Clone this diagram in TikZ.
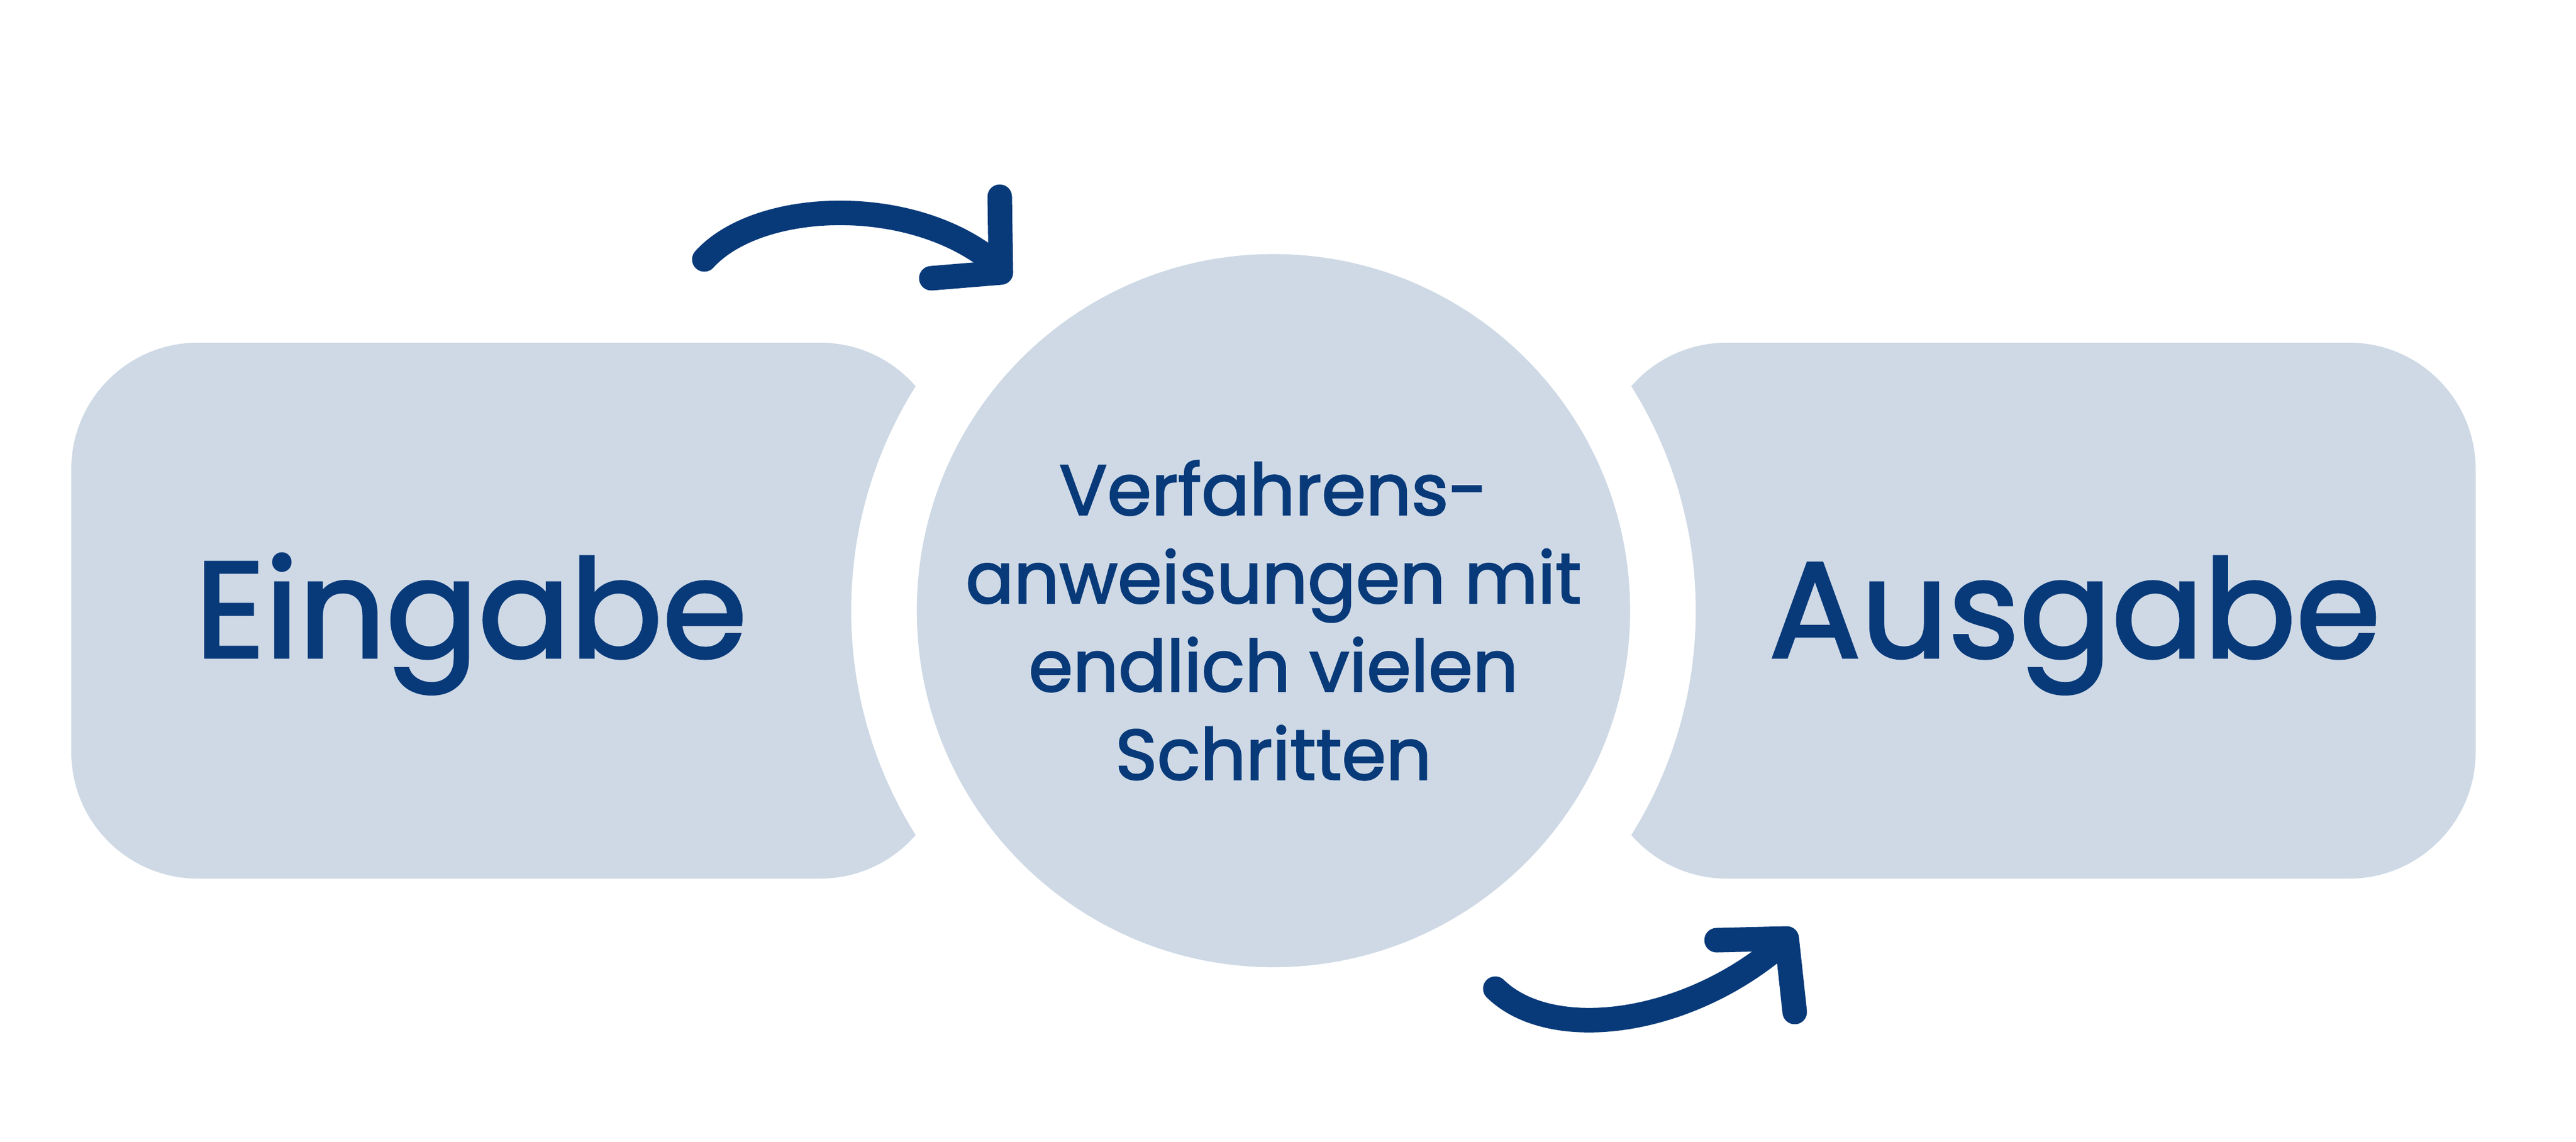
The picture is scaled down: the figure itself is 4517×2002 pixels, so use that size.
\documentclass[tikz,border=0pt]{standalone}
\usepackage{fontspec}
\setmainfont{Poppins}
\newfontfamily\embfont{Poppins}[FakeBold=2]
\definecolor{boxfill}{HTML}{CED9E5}
\definecolor{ink}{HTML}{083A7A}
\tikzset{
  arrowline/.style={draw=ink, line width=0.43cm, line cap=round, line join=round},
  bigtext/.style={text=ink, font=\embfont\fontsize{68}{80}\selectfont, inner sep=0pt, anchor=base},
  midtext/.style={text=ink, font=\embfont\fontsize{35.5}{44}\selectfont, align=center, inner sep=0pt}
}
\begin{document}
\begin{tikzpicture}[x=0.01cm,y=-0.01cm]
\fill[white] (0,0) rectangle (4517,2002);
\useasboundingbox (0,0) rectangle (4517,2002);
% side boxes
\fill[boxfill, rounded corners=2.22cm] (125,601) rectangle (1660,1541);
\fill[boxfill, rounded corners=2.22cm] (2806,601) rectangle (4341,1541);
% white gap around the circle
\fill[white] (2233,1071) circle[radius=7.4cm];
% central circle
\node (proc) [circle, fill=boxfill, minimum size=12.5cm, inner sep=0pt] at (2233,1071) {};
\node (proctext) [midtext] at (2233,1088) {Verfahrens-\\anweisungen mit\\endlich vielen\\Schritten};
\node (ein) [bigtext] at (826,1153) {Eingabe};
\node (aus) [bigtext] at (3638,1153) {Ausgabe};
% top arrow
\coordinate (a1s) at (1235,455);
\coordinate (a1e) at (1745,462);
\coordinate (a1t) at (1753,345);
\coordinate (a1c) at (1755,478);
\coordinate (a1b) at (1633,488);
\draw[arrowline] (a1s) .. controls (1330,350) and (1600,340) .. (a1e);
\draw[arrowline] (a1t) -- (a1c) -- (a1b);
% bottom arrow
\coordinate (a2s) at (2622,1734);
\coordinate (a2e) at (3128,1652);
\coordinate (a2b) at (3010,1649);
\coordinate (a2c) at (3133,1646);
\coordinate (a2t) at (3147,1775);
\draw[arrowline] (a2s) .. controls (2720,1830) and (2960,1800) .. (a2e);
\draw[arrowline] (a2b) -- (a2c) -- (a2t);
\end{tikzpicture}
\end{document}
